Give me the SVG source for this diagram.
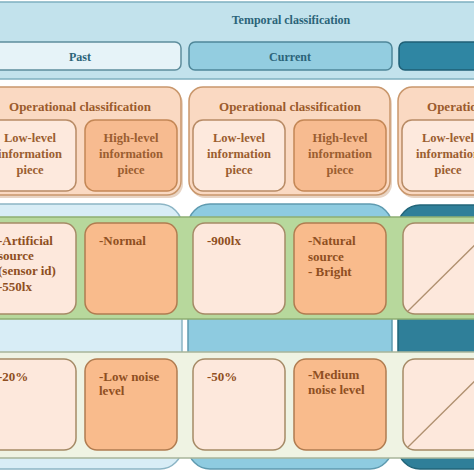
<svg xmlns="http://www.w3.org/2000/svg" width="474" height="474" viewBox="0 0 474 474">
<style>
.tb{font-family:"Liberation Serif","DejaVu Serif",serif;font-weight:bold;font-size:12px;fill:#2b6479;text-anchor:middle}
.op{fill:#fad9c2;stroke:#c9976c;stroke-width:1.5}
.opsh{fill:#d8b79c;opacity:0.6}
.opt{font-family:"Liberation Serif","DejaVu Serif",serif;font-weight:bold;font-size:13px;fill:#9b5b2c;text-anchor:middle}
.low{fill:#fde9dd;stroke:#b88b65;stroke-width:1.5}
.high{fill:#f7bb90;stroke:#c48755;stroke-width:1.5}
.pc{font-family:"Liberation Serif","DejaVu Serif",serif;font-weight:bold;font-size:12.5px;fill:#9b5e30;text-anchor:middle}
.dl{fill:#fde8dc;stroke:#a58a66;stroke-width:1.5}
.dh{fill:#f9bb8c;stroke:#b07c50;stroke-width:1.5}
.dt{font-family:"Liberation Serif","DejaVu Serif",serif;font-weight:bold;font-size:13px;fill:#8f4f22}
.diag{stroke:#b09070;stroke-width:1.3}
</style>
<rect x="0" y="0" width="474" height="474" fill="#ffffff"/>
<!-- temporal band -->
<g id="temporal">
<rect x="-4" y="2" width="482" height="77" fill="#c2e2ec" stroke="#7fb0c0" stroke-width="1.5"/>
<text class="tb" x="291" y="24">Temporal classification</text>
</g>
<g id="past">
<rect x="-10" y="42" width="191" height="28" rx="6" fill="#e6f3f8" stroke="#5e8d9c" stroke-width="1.5"/>
<text class="tb" x="80" y="61">Past</text>
</g>
<g id="current">
<rect x="189" y="42" width="203" height="28" rx="6" fill="#93cde0" stroke="#4f8799" stroke-width="1.5"/>
<text class="tb" x="290" y="61">Current</text>
</g>
<g id="future">
<rect x="399" y="42" width="100" height="28" rx="6" fill="#2f86a3" stroke="#1f5f75" stroke-width="1.5"/>
</g>
<!-- operational classification -->
<g id="op-past">
<rect class="opsh" x="-18" y="90" width="201" height="108" rx="14"/>
<rect class="op" x="-20" y="87" width="201" height="108" rx="14"/>
<text class="opt" x="80" y="111">Operational classification</text>
<rect class="low" x="-16" y="120" width="92" height="71" rx="10"/>
<text class="pc" x="30" y="142">Low-level</text><text class="pc" x="30" y="158">information</text><text class="pc" x="30" y="174">piece</text>
<rect class="high" x="85" y="120" width="92" height="71" rx="10"/>
<text class="pc" x="131" y="142">High-level</text><text class="pc" x="131" y="158">information</text><text class="pc" x="131" y="174">piece</text>
</g>
<g id="op-current">
<rect class="opsh" x="191" y="90" width="201" height="108" rx="14"/>
<rect class="op" x="189" y="87" width="201" height="108" rx="14"/>
<text class="opt" x="290" y="111">Operational classification</text>
<rect class="low" x="193" y="120" width="92" height="71" rx="10"/>
<text class="pc" x="239" y="142">Low-level</text><text class="pc" x="239" y="158">information</text><text class="pc" x="239" y="174">piece</text>
<rect class="high" x="294" y="120" width="92" height="71" rx="10"/>
<text class="pc" x="340" y="142">High-level</text><text class="pc" x="340" y="158">information</text><text class="pc" x="340" y="174">piece</text>
</g>
<g id="op-future">
<rect class="opsh" x="400" y="90" width="201" height="108" rx="14"/>
<rect class="op" x="398" y="87" width="201" height="108" rx="14"/>
<text class="opt" x="498" y="111">Operational classification</text>
<rect class="low" x="402" y="120" width="92" height="71" rx="10"/>
<text class="pc" x="448" y="142">Low-level</text><text class="pc" x="448" y="158">information</text><text class="pc" x="448" y="174">piece</text>
</g>
<!-- temporal columns -->
<g id="columns">
<rect x="-22" y="204" width="204" height="265" rx="22" fill="#d8edf6" stroke="#8cb5c5" stroke-width="1.5"/>
<rect x="188" y="204" width="204" height="265" rx="22" fill="#8ecbe0" stroke="#5f9bb0" stroke-width="1.5"/>
<rect x="398" y="205" width="200" height="264" rx="22" fill="#2f7f99" stroke="#226579" stroke-width="1.5"/>
</g>
<!-- band 1 -->
<g id="band-light">
<rect x="-5" y="217" width="484" height="102" fill="#b7d89c" stroke="#8fae72" stroke-width="1.5"/>
</g>
<g id="light-past-low">
<rect class="dl" x="-16" y="223" width="92" height="91" rx="12"/>
<text class="dt" x="-2" y="245">-Artificial</text>
<text class="dt" x="-2" y="260">source</text>
<text class="dt" x="-2" y="275">(sensor id)</text>
<text class="dt" x="-2" y="291">-550lx</text>
</g>
<g id="light-past-high">
<rect class="dh" x="85" y="223" width="92" height="91" rx="12"/>
<text class="dt" x="99" y="245">-Normal</text>
</g>
<g id="light-current-low">
<rect class="dl" x="193" y="223" width="92" height="91" rx="12"/>
<text class="dt" x="207" y="245">-900lx</text>
</g>
<g id="light-current-high">
<rect class="dh" x="294" y="223" width="92" height="91" rx="12"/>
<text class="dt" x="308" y="245">-Natural</text>
<text class="dt" x="308" y="261">source</text>
<text class="dt" x="308" y="276">- Bright</text>
</g>
<g id="light-future-low">
<rect class="dl" x="403" y="223" width="95" height="91" rx="12"/>
<line class="diag" x1="408" y1="311" x2="494" y2="226"/>
</g>
<!-- band 2 -->
<g id="band-noise">
<rect x="-5" y="352" width="484" height="106" fill="#eff3e3" stroke="#a8b59a" stroke-width="1.5"/>
</g>
<g id="noise-past-low">
<rect class="dl" x="-16" y="359" width="92" height="91" rx="12"/>
<text class="dt" x="-2" y="381">-20%</text>
</g>
<g id="noise-past-high">
<rect class="dh" x="85" y="359" width="92" height="91" rx="12"/>
<text class="dt" x="99" y="381">-Low noise</text>
<text class="dt" x="99" y="395">level</text>
</g>
<g id="noise-current-low">
<rect class="dl" x="193" y="359" width="92" height="91" rx="12"/>
<text class="dt" x="207" y="381">-50%</text>
</g>
<g id="noise-current-high">
<rect class="dh" x="294" y="359" width="92" height="91" rx="12"/>
<text class="dt" x="308" y="379">-Medium</text>
<text class="dt" x="308" y="394">noise level</text>
</g>
<g id="noise-future-low">
<rect class="dl" x="403" y="359" width="95" height="91" rx="12"/>
<line class="diag" x1="408" y1="447" x2="494" y2="362"/>
</g>
<g id="connectors"/>
</svg>
